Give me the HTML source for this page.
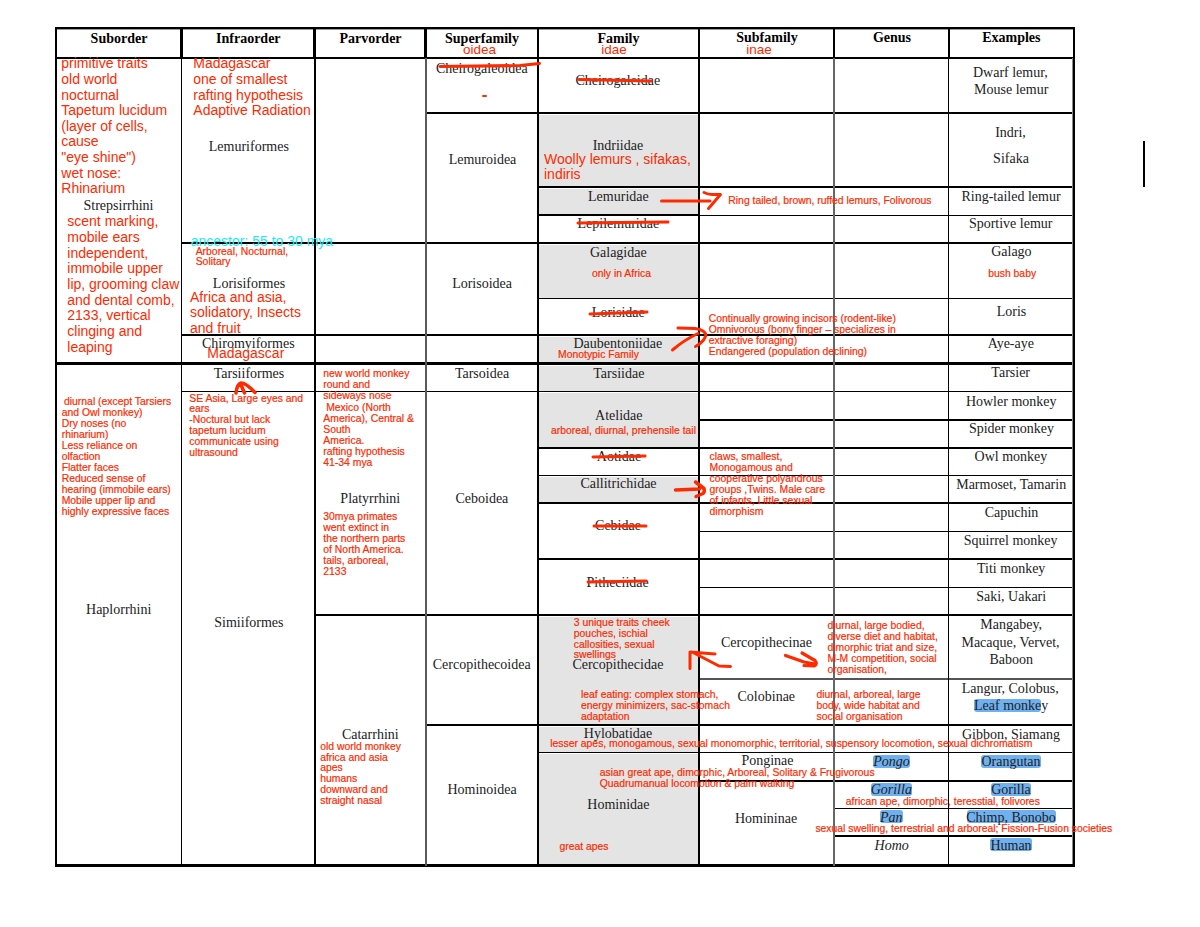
<!DOCTYPE html>
<html><head><meta charset="utf-8"><title>Primate Taxonomy</title>
<style>
html,body{margin:0;padding:0;background:#fff;}
body{width:1200px;height:927px;position:relative;overflow:hidden;}
.t{position:absolute;white-space:pre;}
.l{position:absolute;}
svg{position:absolute;left:0;top:0;}
</style></head><body>
<div class="l" style="left:539px;top:115px;width:159px;height:72px;background:#e4e4e4"></div>
<div class="l" style="left:539px;top:189px;width:159px;height:26px;background:#e4e4e4"></div>
<div class="l" style="left:539px;top:245px;width:159px;height:53px;background:#e4e4e4"></div>
<div class="l" style="left:539px;top:337px;width:159px;height:27px;background:#e4e4e4"></div>
<div class="l" style="left:539px;top:366px;width:159px;height:26px;background:#e4e4e4"></div>
<div class="l" style="left:539px;top:393px;width:159px;height:55px;background:#e4e4e4"></div>
<div class="l" style="left:539px;top:477px;width:159px;height:26px;background:#e4e4e4"></div>
<div class="l" style="left:539px;top:617px;width:159px;height:108px;background:#e4e4e4"></div>
<div class="l" style="left:539px;top:727px;width:159px;height:26px;background:#e4e4e4"></div>
<div class="l" style="left:539px;top:754px;width:159px;height:110px;background:#e4e4e4"></div>
<div class="l" style="left:974px;top:699px;width:67px;height:13px;background:#6eb0f0;border-radius:3px"></div>
<div class="l" style="left:873px;top:755px;width:37px;height:13px;background:#6eb0f0;border-radius:3px"></div>
<div class="l" style="left:981px;top:755px;width:60px;height:13px;background:#6eb0f0;border-radius:3px"></div>
<div class="l" style="left:871px;top:783px;width:41px;height:13px;background:#6eb0f0;border-radius:3px"></div>
<div class="l" style="left:991px;top:783px;width:40px;height:13px;background:#6eb0f0;border-radius:3px"></div>
<div class="l" style="left:880px;top:810px;width:23px;height:13px;background:#6eb0f0;border-radius:3px"></div>
<div class="l" style="left:967px;top:810px;width:89px;height:13px;background:#6eb0f0;border-radius:3px"></div>
<div class="l" style="left:990px;top:838px;width:42px;height:13px;background:#6eb0f0;border-radius:3px"></div>
<div class="l" style="left:55px;top:27px;width:1020px;height:2px;background:#000"></div>
<div class="l" style="left:55px;top:29px;width:1020px;height:1px;background:#999"></div>
<div class="l" style="left:55px;top:57px;width:1020px;height:2px;background:#000"></div>
<div class="l" style="left:425px;top:112px;width:649px;height:2px;background:#000"></div>
<div class="l" style="left:537px;top:186px;width:537px;height:2px;background:#000"></div>
<div class="l" style="left:537px;top:214px;width:161px;height:2px;background:#000"></div>
<div class="l" style="left:698px;top:215px;width:376px;height:1px;background:#000"></div>
<div class="l" style="left:181px;top:242px;width:893px;height:2px;background:#000"></div>
<div class="l" style="left:537px;top:298px;width:537px;height:1px;background:#000"></div>
<div class="l" style="left:181px;top:334px;width:893px;height:2px;background:#000"></div>
<div class="l" style="left:55px;top:362px;width:1019px;height:3px;background:#000"></div>
<div class="l" style="left:181px;top:391px;width:893px;height:1px;background:#000"></div>
<div class="l" style="left:698px;top:419px;width:376px;height:2px;background:#000"></div>
<div class="l" style="left:537px;top:447px;width:537px;height:2px;background:#000"></div>
<div class="l" style="left:537px;top:475px;width:537px;height:1px;background:#000"></div>
<div class="l" style="left:537px;top:502px;width:537px;height:2px;background:#000"></div>
<div class="l" style="left:698px;top:531px;width:376px;height:1px;background:#000"></div>
<div class="l" style="left:537px;top:558px;width:537px;height:2px;background:#000"></div>
<div class="l" style="left:698px;top:587px;width:376px;height:1px;background:#000"></div>
<div class="l" style="left:315px;top:614px;width:759px;height:2px;background:#000"></div>
<div class="l" style="left:698px;top:678px;width:376px;height:2px;background:#555"></div>
<div class="l" style="left:425px;top:724px;width:649px;height:2px;background:#000"></div>
<div class="l" style="left:537px;top:752px;width:537px;height:1px;background:#000"></div>
<div class="l" style="left:698px;top:780px;width:376px;height:2px;background:#000"></div>
<div class="l" style="left:833px;top:808px;width:241px;height:1px;background:#000"></div>
<div class="l" style="left:833px;top:835px;width:241px;height:2px;background:#000"></div>
<div class="l" style="left:55px;top:864px;width:1020px;height:3px;background:#000"></div>
<div class="l" style="left:55px;top:27px;width:2px;height:840px;background:#000"></div>
<div class="l" style="left:180px;top:27px;width:3px;height:31px;background:#000"></div>
<div class="l" style="left:181px;top:58px;width:1px;height:808px;background:#000"></div>
<div class="l" style="left:313px;top:27px;width:3px;height:31px;background:#000"></div>
<div class="l" style="left:314px;top:58px;width:2px;height:808px;background:#000"></div>
<div class="l" style="left:424px;top:27px;width:3px;height:31px;background:#000"></div>
<div class="l" style="left:425px;top:58px;width:2px;height:808px;background:#5a5a5a"></div>
<div class="l" style="left:537px;top:27px;width:2px;height:839px;background:#000"></div>
<div class="l" style="left:698px;top:27px;width:2px;height:839px;background:#000"></div>
<div class="l" style="left:833px;top:27px;width:2px;height:31px;background:#000"></div>
<div class="l" style="left:833px;top:58px;width:2px;height:808px;background:#666"></div>
<div class="l" style="left:948px;top:27px;width:2px;height:31px;background:#000"></div>
<div class="l" style="left:948px;top:58px;width:1px;height:808px;background:#000"></div>
<div class="l" style="left:1073px;top:27px;width:2px;height:840px;background:#000"></div>
<div class="l" style="left:1072px;top:58px;width:1px;height:806px;background:#888"></div>
<div class="l" style="left:1143px;top:141px;width:2px;height:46px;background:#000"></div>
<div class="t" style="left:-181.00px;width:600px;text-align:center;top:29.77px;font-family:'Liberation Serif', serif;font-size:14px;line-height:17px;color:#000;font-weight:bold;">Suborder</div>
<div class="t" style="left:-51.70px;width:600px;text-align:center;top:29.77px;font-family:'Liberation Serif', serif;font-size:14px;line-height:17px;color:#000;font-weight:bold;">Infraorder</div>
<div class="t" style="left:70.50px;width:600px;text-align:center;top:29.77px;font-family:'Liberation Serif', serif;font-size:14px;line-height:17px;color:#000;font-weight:bold;">Parvorder</div>
<div class="t" style="left:182.00px;width:600px;text-align:center;top:30.27px;font-family:'Liberation Serif', serif;font-size:14px;line-height:17px;color:#000;font-weight:bold;">Superfamily</div>
<div class="t" style="left:179.50px;width:600px;text-align:center;top:41.15px;font-family:'Liberation Sans', sans-serif;font-size:14px;line-height:17px;color:#ff2a00;font-size:13.5px;">oidea</div>
<div class="t" style="left:318.50px;width:600px;text-align:center;top:30.27px;font-family:'Liberation Serif', serif;font-size:14px;line-height:17px;color:#000;font-weight:bold;">Family</div>
<div class="t" style="left:314.00px;width:600px;text-align:center;top:41.15px;font-family:'Liberation Sans', sans-serif;font-size:14px;line-height:17px;color:#ff2a00;font-size:13.5px;">idae</div>
<div class="t" style="left:467.00px;width:600px;text-align:center;top:29.48px;font-family:'Liberation Serif', serif;font-size:14px;line-height:17px;color:#000;font-weight:bold;">Subfamily</div>
<div class="t" style="left:459.00px;width:600px;text-align:center;top:41.45px;font-family:'Liberation Sans', sans-serif;font-size:14px;line-height:17px;color:#ff2a00;font-size:13.5px;">inae</div>
<div class="t" style="left:592.00px;width:600px;text-align:center;top:29.48px;font-family:'Liberation Serif', serif;font-size:14px;line-height:17px;color:#000;font-weight:bold;">Genus</div>
<div class="t" style="left:711.30px;width:600px;text-align:center;top:29.48px;font-family:'Liberation Serif', serif;font-size:14px;line-height:17px;color:#000;font-weight:bold;">Examples</div>
<div class="t" style="left:61.30px;top:55.35px;font-family:'Liberation Sans', sans-serif;font-size:14px;line-height:17px;color:#ff2a00;">primitive traits</div>
<div class="t" style="left:61.30px;top:70.96px;font-family:'Liberation Sans', sans-serif;font-size:14px;line-height:17px;color:#ff2a00;">old world</div>
<div class="t" style="left:61.30px;top:86.57px;font-family:'Liberation Sans', sans-serif;font-size:14px;line-height:17px;color:#ff2a00;">nocturnal</div>
<div class="t" style="left:61.30px;top:102.18px;font-family:'Liberation Sans', sans-serif;font-size:14px;line-height:17px;color:#ff2a00;">Tapetum lucidum</div>
<div class="t" style="left:61.30px;top:117.79px;font-family:'Liberation Sans', sans-serif;font-size:14px;line-height:17px;color:#ff2a00;">(layer of cells,</div>
<div class="t" style="left:61.30px;top:133.40px;font-family:'Liberation Sans', sans-serif;font-size:14px;line-height:17px;color:#ff2a00;">cause</div>
<div class="t" style="left:61.30px;top:149.01px;font-family:'Liberation Sans', sans-serif;font-size:14px;line-height:17px;color:#ff2a00;">&quot;eye shine&quot;)</div>
<div class="t" style="left:61.30px;top:164.62px;font-family:'Liberation Sans', sans-serif;font-size:14px;line-height:17px;color:#ff2a00;">wet nose:</div>
<div class="t" style="left:61.30px;top:180.23px;font-family:'Liberation Sans', sans-serif;font-size:14px;line-height:17px;color:#ff2a00;">Rhinarium</div>
<div class="t" style="left:-181.50px;width:600px;text-align:center;top:197.47px;font-family:'Liberation Serif', serif;font-size:14px;line-height:17px;color:#222;">Strepsirrhini</div>
<div class="t" style="left:67.30px;top:213.35px;font-family:'Liberation Sans', sans-serif;font-size:14px;line-height:17px;color:#ff2a00;">scent marking,</div>
<div class="t" style="left:67.30px;top:229.01px;font-family:'Liberation Sans', sans-serif;font-size:14px;line-height:17px;color:#ff2a00;">mobile ears</div>
<div class="t" style="left:67.30px;top:244.67px;font-family:'Liberation Sans', sans-serif;font-size:14px;line-height:17px;color:#ff2a00;">independent,</div>
<div class="t" style="left:67.30px;top:260.33px;font-family:'Liberation Sans', sans-serif;font-size:14px;line-height:17px;color:#ff2a00;">immobile upper</div>
<div class="t" style="left:67.30px;top:275.99px;font-family:'Liberation Sans', sans-serif;font-size:14px;line-height:17px;color:#ff2a00;">lip, grooming claw</div>
<div class="t" style="left:67.30px;top:291.65px;font-family:'Liberation Sans', sans-serif;font-size:14px;line-height:17px;color:#ff2a00;">and dental comb,</div>
<div class="t" style="left:67.30px;top:307.31px;font-family:'Liberation Sans', sans-serif;font-size:14px;line-height:17px;color:#ff2a00;">2133, vertical</div>
<div class="t" style="left:67.30px;top:322.97px;font-family:'Liberation Sans', sans-serif;font-size:14px;line-height:17px;color:#ff2a00;">clinging and</div>
<div class="t" style="left:67.30px;top:338.63px;font-family:'Liberation Sans', sans-serif;font-size:14px;line-height:17px;color:#ff2a00;">leaping</div>
<div class="t" style="left:64.00px;top:395.90px;font-family:'Liberation Sans', sans-serif;font-size:10.4px;line-height:12px;color:#ff2a00;-webkit-text-stroke:0.2px #ff2a00;">diurnal (except Tarsiers</div>
<div class="t" style="left:61.70px;top:406.90px;font-family:'Liberation Sans', sans-serif;font-size:10.4px;line-height:12px;color:#ff2a00;-webkit-text-stroke:0.2px #ff2a00;">and Owl monkey)</div>
<div class="t" style="left:61.70px;top:417.90px;font-family:'Liberation Sans', sans-serif;font-size:10.4px;line-height:12px;color:#ff2a00;-webkit-text-stroke:0.2px #ff2a00;">Dry noses (no</div>
<div class="t" style="left:61.70px;top:428.90px;font-family:'Liberation Sans', sans-serif;font-size:10.4px;line-height:12px;color:#ff2a00;-webkit-text-stroke:0.2px #ff2a00;">rhinarium)</div>
<div class="t" style="left:61.70px;top:439.90px;font-family:'Liberation Sans', sans-serif;font-size:10.4px;line-height:12px;color:#ff2a00;-webkit-text-stroke:0.2px #ff2a00;">Less reliance on</div>
<div class="t" style="left:61.70px;top:450.90px;font-family:'Liberation Sans', sans-serif;font-size:10.4px;line-height:12px;color:#ff2a00;-webkit-text-stroke:0.2px #ff2a00;">olfaction</div>
<div class="t" style="left:61.70px;top:461.90px;font-family:'Liberation Sans', sans-serif;font-size:10.4px;line-height:12px;color:#ff2a00;-webkit-text-stroke:0.2px #ff2a00;">Flatter faces</div>
<div class="t" style="left:61.70px;top:472.90px;font-family:'Liberation Sans', sans-serif;font-size:10.4px;line-height:12px;color:#ff2a00;-webkit-text-stroke:0.2px #ff2a00;">Reduced sense of</div>
<div class="t" style="left:61.70px;top:483.90px;font-family:'Liberation Sans', sans-serif;font-size:10.4px;line-height:12px;color:#ff2a00;-webkit-text-stroke:0.2px #ff2a00;">hearing (immobile ears)</div>
<div class="t" style="left:61.70px;top:494.90px;font-family:'Liberation Sans', sans-serif;font-size:10.4px;line-height:12px;color:#ff2a00;-webkit-text-stroke:0.2px #ff2a00;">Mobile upper lip and</div>
<div class="t" style="left:61.70px;top:505.90px;font-family:'Liberation Sans', sans-serif;font-size:10.4px;line-height:12px;color:#ff2a00;-webkit-text-stroke:0.2px #ff2a00;">highly expressive faces</div>
<div class="t" style="left:-181.30px;width:600px;text-align:center;top:601.38px;font-family:'Liberation Serif', serif;font-size:14px;line-height:17px;color:#222;">Haplorrhini</div>
<div class="t" style="left:193.30px;top:55.45px;font-family:'Liberation Sans', sans-serif;font-size:14px;line-height:17px;color:#ff2a00;">Madagascar</div>
<div class="t" style="left:193.30px;top:71.10px;font-family:'Liberation Sans', sans-serif;font-size:14px;line-height:17px;color:#ff2a00;">one of smallest</div>
<div class="t" style="left:193.30px;top:86.75px;font-family:'Liberation Sans', sans-serif;font-size:14px;line-height:17px;color:#ff2a00;">rafting hypothesis</div>
<div class="t" style="left:193.30px;top:102.40px;font-family:'Liberation Sans', sans-serif;font-size:14px;line-height:17px;color:#ff2a00;">Adaptive Radiation</div>
<div class="t" style="left:-51.20px;width:600px;text-align:center;top:137.78px;font-family:'Liberation Serif', serif;font-size:14px;line-height:17px;color:#222;">Lemuriformes</div>
<div class="t" style="left:195.70px;top:246.40px;font-family:'Liberation Sans', sans-serif;font-size:10.4px;line-height:12px;color:#ff2a00;-webkit-text-stroke:0.2px #ff2a00;">Arboreal, Nocturnal,</div>
<div class="t" style="left:195.70px;top:256.40px;font-family:'Liberation Sans', sans-serif;font-size:10.4px;line-height:12px;color:#ff2a00;-webkit-text-stroke:0.2px #ff2a00;">Solitary</div>
<div class="t" style="left:-51.00px;width:600px;text-align:center;top:274.67px;font-family:'Liberation Serif', serif;font-size:14px;line-height:17px;color:#222;">Lorisiformes</div>
<div class="t" style="left:190.00px;top:288.65px;font-family:'Liberation Sans', sans-serif;font-size:14px;line-height:17px;color:#ff2a00;">Africa and asia,</div>
<div class="t" style="left:190.00px;top:304.15px;font-family:'Liberation Sans', sans-serif;font-size:14px;line-height:17px;color:#ff2a00;">solidatory, Insects</div>
<div class="t" style="left:190.00px;top:319.65px;font-family:'Liberation Sans', sans-serif;font-size:14px;line-height:17px;color:#ff2a00;">and fruit</div>
<div class="t" style="left:-51.70px;width:600px;text-align:center;top:335.07px;font-family:'Liberation Serif', serif;font-size:14px;line-height:17px;color:#222;">Chiromyiformes</div>
<div class="t" style="left:-54.20px;width:600px;text-align:center;top:345.15px;font-family:'Liberation Sans', sans-serif;font-size:14px;line-height:17px;color:#ff2a00;">Madagascar</div>
<div class="t" style="left:-51.00px;width:600px;text-align:center;top:365.07px;font-family:'Liberation Serif', serif;font-size:14px;line-height:17px;color:#222;">Tarsiiformes</div>
<div class="t" style="left:189.30px;top:392.60px;font-family:'Liberation Sans', sans-serif;font-size:10.4px;line-height:12px;color:#ff2a00;-webkit-text-stroke:0.2px #ff2a00;">SE Asia, Large eyes and</div>
<div class="t" style="left:189.30px;top:403.45px;font-family:'Liberation Sans', sans-serif;font-size:10.4px;line-height:12px;color:#ff2a00;-webkit-text-stroke:0.2px #ff2a00;">ears</div>
<div class="t" style="left:189.30px;top:414.30px;font-family:'Liberation Sans', sans-serif;font-size:10.4px;line-height:12px;color:#ff2a00;-webkit-text-stroke:0.2px #ff2a00;">-Noctural but lack</div>
<div class="t" style="left:189.30px;top:425.15px;font-family:'Liberation Sans', sans-serif;font-size:10.4px;line-height:12px;color:#ff2a00;-webkit-text-stroke:0.2px #ff2a00;">tapetum lucidum</div>
<div class="t" style="left:189.30px;top:436.00px;font-family:'Liberation Sans', sans-serif;font-size:10.4px;line-height:12px;color:#ff2a00;-webkit-text-stroke:0.2px #ff2a00;">communicate using</div>
<div class="t" style="left:189.30px;top:446.85px;font-family:'Liberation Sans', sans-serif;font-size:10.4px;line-height:12px;color:#ff2a00;-webkit-text-stroke:0.2px #ff2a00;">ultrasound</div>
<div class="t" style="left:-51.10px;width:600px;text-align:center;top:613.98px;font-family:'Liberation Serif', serif;font-size:14px;line-height:17px;color:#222;">Simiiformes</div>
<div class="t" style="left:190.70px;top:232.95px;font-family:'Liberation Sans', sans-serif;font-size:14px;line-height:17px;color:#1cecf2;">ancestor: 55 to 30 mya</div>
<div class="t" style="left:323.30px;top:368.20px;font-family:'Liberation Sans', sans-serif;font-size:10.4px;line-height:12px;color:#ff2a00;-webkit-text-stroke:0.2px #ff2a00;">new world monkey</div>
<div class="t" style="left:323.30px;top:379.30px;font-family:'Liberation Sans', sans-serif;font-size:10.4px;line-height:12px;color:#ff2a00;-webkit-text-stroke:0.2px #ff2a00;">round and</div>
<div class="t" style="left:323.30px;top:390.40px;font-family:'Liberation Sans', sans-serif;font-size:10.4px;line-height:12px;color:#ff2a00;-webkit-text-stroke:0.2px #ff2a00;">sideways nose</div>
<div class="t" style="left:323.30px;top:401.50px;font-family:'Liberation Sans', sans-serif;font-size:10.4px;line-height:12px;color:#ff2a00;-webkit-text-stroke:0.2px #ff2a00;"> Mexico (North</div>
<div class="t" style="left:323.30px;top:412.60px;font-family:'Liberation Sans', sans-serif;font-size:10.4px;line-height:12px;color:#ff2a00;-webkit-text-stroke:0.2px #ff2a00;">America), Central &amp;</div>
<div class="t" style="left:323.30px;top:423.70px;font-family:'Liberation Sans', sans-serif;font-size:10.4px;line-height:12px;color:#ff2a00;-webkit-text-stroke:0.2px #ff2a00;">South</div>
<div class="t" style="left:323.30px;top:434.80px;font-family:'Liberation Sans', sans-serif;font-size:10.4px;line-height:12px;color:#ff2a00;-webkit-text-stroke:0.2px #ff2a00;">America.</div>
<div class="t" style="left:323.30px;top:445.90px;font-family:'Liberation Sans', sans-serif;font-size:10.4px;line-height:12px;color:#ff2a00;-webkit-text-stroke:0.2px #ff2a00;">rafting hypothesis</div>
<div class="t" style="left:323.30px;top:457.00px;font-family:'Liberation Sans', sans-serif;font-size:10.4px;line-height:12px;color:#ff2a00;-webkit-text-stroke:0.2px #ff2a00;">41-34 mya</div>
<div class="t" style="left:70.30px;width:600px;text-align:center;top:490.17px;font-family:'Liberation Serif', serif;font-size:14px;line-height:17px;color:#222;">Platyrrhini</div>
<div class="t" style="left:323.30px;top:511.40px;font-family:'Liberation Sans', sans-serif;font-size:10.4px;line-height:12px;color:#ff2a00;-webkit-text-stroke:0.2px #ff2a00;">30mya primates</div>
<div class="t" style="left:323.30px;top:522.40px;font-family:'Liberation Sans', sans-serif;font-size:10.4px;line-height:12px;color:#ff2a00;-webkit-text-stroke:0.2px #ff2a00;">went extinct in</div>
<div class="t" style="left:323.30px;top:533.40px;font-family:'Liberation Sans', sans-serif;font-size:10.4px;line-height:12px;color:#ff2a00;-webkit-text-stroke:0.2px #ff2a00;">the northern parts</div>
<div class="t" style="left:323.30px;top:544.40px;font-family:'Liberation Sans', sans-serif;font-size:10.4px;line-height:12px;color:#ff2a00;-webkit-text-stroke:0.2px #ff2a00;">of North America.</div>
<div class="t" style="left:323.30px;top:555.40px;font-family:'Liberation Sans', sans-serif;font-size:10.4px;line-height:12px;color:#ff2a00;-webkit-text-stroke:0.2px #ff2a00;">tails, arboreal,</div>
<div class="t" style="left:323.30px;top:566.40px;font-family:'Liberation Sans', sans-serif;font-size:10.4px;line-height:12px;color:#ff2a00;-webkit-text-stroke:0.2px #ff2a00;">2133</div>
<div class="t" style="left:70.30px;width:600px;text-align:center;top:726.07px;font-family:'Liberation Serif', serif;font-size:14px;line-height:17px;color:#222;">Catarrhini</div>
<div class="t" style="left:320.20px;top:740.70px;font-family:'Liberation Sans', sans-serif;font-size:10.4px;line-height:12px;color:#ff2a00;-webkit-text-stroke:0.2px #ff2a00;">old world monkey</div>
<div class="t" style="left:320.20px;top:751.50px;font-family:'Liberation Sans', sans-serif;font-size:10.4px;line-height:12px;color:#ff2a00;-webkit-text-stroke:0.2px #ff2a00;">africa and asia</div>
<div class="t" style="left:320.20px;top:762.30px;font-family:'Liberation Sans', sans-serif;font-size:10.4px;line-height:12px;color:#ff2a00;-webkit-text-stroke:0.2px #ff2a00;">apes</div>
<div class="t" style="left:320.20px;top:773.10px;font-family:'Liberation Sans', sans-serif;font-size:10.4px;line-height:12px;color:#ff2a00;-webkit-text-stroke:0.2px #ff2a00;">humans</div>
<div class="t" style="left:320.20px;top:783.90px;font-family:'Liberation Sans', sans-serif;font-size:10.4px;line-height:12px;color:#ff2a00;-webkit-text-stroke:0.2px #ff2a00;">downward and</div>
<div class="t" style="left:320.20px;top:794.70px;font-family:'Liberation Sans', sans-serif;font-size:10.4px;line-height:12px;color:#ff2a00;-webkit-text-stroke:0.2px #ff2a00;">straight nasal</div>
<div class="t" style="left:181.90px;width:600px;text-align:center;top:59.57px;font-family:'Liberation Serif', serif;font-size:14px;line-height:17px;color:#222;">Cheirogaleoidea</div>
<div class="t" style="left:182.50px;width:600px;text-align:center;top:151.47px;font-family:'Liberation Serif', serif;font-size:14px;line-height:17px;color:#222;">Lemuroidea</div>
<div class="t" style="left:182.10px;width:600px;text-align:center;top:275.17px;font-family:'Liberation Serif', serif;font-size:14px;line-height:17px;color:#222;">Lorisoidea</div>
<div class="t" style="left:182.00px;width:600px;text-align:center;top:364.57px;font-family:'Liberation Serif', serif;font-size:14px;line-height:17px;color:#222;">Tarsoidea</div>
<div class="t" style="left:181.90px;width:600px;text-align:center;top:490.17px;font-family:'Liberation Serif', serif;font-size:14px;line-height:17px;color:#222;">Ceboidea</div>
<div class="t" style="left:181.70px;width:600px;text-align:center;top:656.07px;font-family:'Liberation Serif', serif;font-size:14px;line-height:17px;color:#222;">Cercopithecoidea</div>
<div class="t" style="left:182.00px;width:600px;text-align:center;top:780.77px;font-family:'Liberation Serif', serif;font-size:14px;line-height:17px;color:#222;">Hominoidea</div>
<div class="t" style="left:317.80px;width:600px;text-align:center;top:71.97px;font-family:'Liberation Serif', serif;font-size:14px;line-height:17px;color:#222;">Cheirogaleidae</div>
<div class="t" style="left:317.90px;width:600px;text-align:center;top:136.97px;font-family:'Liberation Serif', serif;font-size:14px;line-height:17px;color:#222;">Indriidae</div>
<div class="t" style="left:544.00px;top:151.45px;font-family:'Liberation Sans', sans-serif;font-size:14px;line-height:17px;color:#ff2a00;">Woolly lemurs , sifakas,</div>
<div class="t" style="left:544.00px;top:166.15px;font-family:'Liberation Sans', sans-serif;font-size:14px;line-height:17px;color:#ff2a00;">indiris</div>
<div class="t" style="left:318.40px;width:600px;text-align:center;top:188.28px;font-family:'Liberation Serif', serif;font-size:14px;line-height:17px;color:#222;">Lemuridae</div>
<div class="t" style="left:318.40px;width:600px;text-align:center;top:215.18px;font-family:'Liberation Serif', serif;font-size:14px;line-height:17px;color:#222;">Lepilemuridae</div>
<div class="t" style="left:318.30px;width:600px;text-align:center;top:243.67px;font-family:'Liberation Serif', serif;font-size:14px;line-height:17px;color:#222;">Galagidae</div>
<div class="t" style="left:592.00px;top:268.30px;font-family:'Liberation Sans', sans-serif;font-size:10.4px;line-height:12px;color:#ff2a00;-webkit-text-stroke:0.2px #ff2a00;">only in Africa</div>
<div class="t" style="left:318.30px;width:600px;text-align:center;top:303.57px;font-family:'Liberation Serif', serif;font-size:14px;line-height:17px;color:#222;">Lorisidae</div>
<div class="t" style="left:317.80px;width:600px;text-align:center;top:335.07px;font-family:'Liberation Serif', serif;font-size:14px;line-height:17px;color:#222;">Daubentoniidae</div>
<div class="t" style="left:558.00px;top:348.80px;font-family:'Liberation Sans', sans-serif;font-size:10.4px;line-height:12px;color:#ff2a00;-webkit-text-stroke:0.2px #ff2a00;">Monotypic Family</div>
<div class="t" style="left:318.80px;width:600px;text-align:center;top:364.57px;font-family:'Liberation Serif', serif;font-size:14px;line-height:17px;color:#222;">Tarsiidae</div>
<div class="t" style="left:318.80px;width:600px;text-align:center;top:407.27px;font-family:'Liberation Serif', serif;font-size:14px;line-height:17px;color:#222;">Atelidae</div>
<div class="t" style="left:551.00px;top:424.90px;font-family:'Liberation Sans', sans-serif;font-size:10.4px;line-height:12px;color:#ff2a00;-webkit-text-stroke:0.2px #ff2a00;">arboreal, diurnal, prehensile tail</div>
<div class="t" style="left:319.00px;width:600px;text-align:center;top:448.17px;font-family:'Liberation Serif', serif;font-size:14px;line-height:17px;color:#222;">Aotidae</div>
<div class="t" style="left:318.50px;width:600px;text-align:center;top:475.38px;font-family:'Liberation Serif', serif;font-size:14px;line-height:17px;color:#222;">Callitrichidae</div>
<div class="t" style="left:318.00px;width:600px;text-align:center;top:517.48px;font-family:'Liberation Serif', serif;font-size:14px;line-height:17px;color:#222;">Cebidae</div>
<div class="t" style="left:317.70px;width:600px;text-align:center;top:574.38px;font-family:'Liberation Serif', serif;font-size:14px;line-height:17px;color:#222;">Pitheciidae</div>
<div class="t" style="left:573.80px;top:617.00px;font-family:'Liberation Sans', sans-serif;font-size:10.4px;line-height:12px;color:#ff2a00;-webkit-text-stroke:0.2px #ff2a00;">3 unique traits cheek</div>
<div class="t" style="left:573.80px;top:627.80px;font-family:'Liberation Sans', sans-serif;font-size:10.4px;line-height:12px;color:#ff2a00;-webkit-text-stroke:0.2px #ff2a00;">pouches, ischial</div>
<div class="t" style="left:573.80px;top:638.60px;font-family:'Liberation Sans', sans-serif;font-size:10.4px;line-height:12px;color:#ff2a00;-webkit-text-stroke:0.2px #ff2a00;">callosities, sexual</div>
<div class="t" style="left:573.80px;top:649.40px;font-family:'Liberation Sans', sans-serif;font-size:10.4px;line-height:12px;color:#ff2a00;-webkit-text-stroke:0.2px #ff2a00;">swellings</div>
<div class="t" style="left:317.90px;width:600px;text-align:center;top:656.07px;font-family:'Liberation Serif', serif;font-size:14px;line-height:17px;color:#222;">Cercopithecidae</div>
<div class="t" style="left:581.00px;top:688.80px;font-family:'Liberation Sans', sans-serif;font-size:10.4px;line-height:12px;color:#ff2a00;-webkit-text-stroke:0.2px #ff2a00;">leaf eating: complex stomach,</div>
<div class="t" style="left:581.00px;top:699.90px;font-family:'Liberation Sans', sans-serif;font-size:10.4px;line-height:12px;color:#ff2a00;-webkit-text-stroke:0.2px #ff2a00;">energy minimizers, sac-stomach</div>
<div class="t" style="left:581.00px;top:711.00px;font-family:'Liberation Sans', sans-serif;font-size:10.4px;line-height:12px;color:#ff2a00;-webkit-text-stroke:0.2px #ff2a00;">adaptation</div>
<div class="t" style="left:318.00px;width:600px;text-align:center;top:725.48px;font-family:'Liberation Serif', serif;font-size:14px;line-height:17px;color:#222;">Hylobatidae</div>
<div class="t" style="left:550.20px;top:738.30px;font-family:'Liberation Sans', sans-serif;font-size:10.4px;line-height:12px;color:#ff2a00;-webkit-text-stroke:0.2px #ff2a00;">lesser apes, monogamous, sexual monomorphic, territorial, suspensory locomotion, sexual dichromatism</div>
<div class="t" style="left:599.70px;top:767.40px;font-family:'Liberation Sans', sans-serif;font-size:10.4px;line-height:12px;color:#ff2a00;-webkit-text-stroke:0.2px #ff2a00;">asian great ape, dimorphic, Arboreal, Solitary &amp; Frugivorous</div>
<div class="t" style="left:599.70px;top:777.60px;font-family:'Liberation Sans', sans-serif;font-size:10.4px;line-height:12px;color:#ff2a00;-webkit-text-stroke:0.2px #ff2a00;">Quadrumanual locomotion &amp; palm walking</div>
<div class="t" style="left:318.40px;width:600px;text-align:center;top:795.77px;font-family:'Liberation Serif', serif;font-size:14px;line-height:17px;color:#222;">Hominidae</div>
<div class="t" style="left:559.40px;top:841.10px;font-family:'Liberation Sans', sans-serif;font-size:10.4px;line-height:12px;color:#ff2a00;-webkit-text-stroke:0.2px #ff2a00;">great apes</div>
<div class="t" style="left:728.30px;top:195.20px;font-family:'Liberation Sans', sans-serif;font-size:10.4px;line-height:12px;color:#ff2a00;-webkit-text-stroke:0.2px #ff2a00;">Ring tailed, brown, ruffed lemurs, Folivorous</div>
<div class="t" style="left:708.75px;top:313.15px;font-family:'Liberation Sans', sans-serif;font-size:10.4px;line-height:12px;color:#ff2a00;-webkit-text-stroke:0.2px #ff2a00;">Continually growing incisors (rodent-like)</div>
<div class="t" style="left:708.75px;top:324.15px;font-family:'Liberation Sans', sans-serif;font-size:10.4px;line-height:12px;color:#ff2a00;-webkit-text-stroke:0.2px #ff2a00;">Omnivorous (bony finger – specializes in</div>
<div class="t" style="left:708.75px;top:335.15px;font-family:'Liberation Sans', sans-serif;font-size:10.4px;line-height:12px;color:#ff2a00;-webkit-text-stroke:0.2px #ff2a00;">extractive foraging)</div>
<div class="t" style="left:708.75px;top:346.15px;font-family:'Liberation Sans', sans-serif;font-size:10.4px;line-height:12px;color:#ff2a00;-webkit-text-stroke:0.2px #ff2a00;">Endangered (population declining)</div>
<div class="t" style="left:709.60px;top:451.00px;font-family:'Liberation Sans', sans-serif;font-size:10.4px;line-height:12px;color:#ff2a00;-webkit-text-stroke:0.2px #ff2a00;">claws, smallest,</div>
<div class="t" style="left:709.60px;top:461.94px;font-family:'Liberation Sans', sans-serif;font-size:10.4px;line-height:12px;color:#ff2a00;-webkit-text-stroke:0.2px #ff2a00;">Monogamous and</div>
<div class="t" style="left:709.60px;top:472.88px;font-family:'Liberation Sans', sans-serif;font-size:10.4px;line-height:12px;color:#ff2a00;-webkit-text-stroke:0.2px #ff2a00;">cooperative polyandrous</div>
<div class="t" style="left:709.60px;top:483.82px;font-family:'Liberation Sans', sans-serif;font-size:10.4px;line-height:12px;color:#ff2a00;-webkit-text-stroke:0.2px #ff2a00;">groups ,Twins. Male care</div>
<div class="t" style="left:709.60px;top:494.76px;font-family:'Liberation Sans', sans-serif;font-size:10.4px;line-height:12px;color:#ff2a00;-webkit-text-stroke:0.2px #ff2a00;">of infants, Little sexual</div>
<div class="t" style="left:709.60px;top:505.70px;font-family:'Liberation Sans', sans-serif;font-size:10.4px;line-height:12px;color:#ff2a00;-webkit-text-stroke:0.2px #ff2a00;">dimorphism</div>
<div class="t" style="left:466.40px;width:600px;text-align:center;top:634.27px;font-family:'Liberation Serif', serif;font-size:14px;line-height:17px;color:#222;">Cercopithecinae</div>
<div class="t" style="left:466.30px;width:600px;text-align:center;top:688.48px;font-family:'Liberation Serif', serif;font-size:14px;line-height:17px;color:#222;">Colobinae</div>
<div class="t" style="left:467.50px;width:600px;text-align:center;top:751.77px;font-family:'Liberation Serif', serif;font-size:14px;line-height:17px;color:#222;">Ponginae</div>
<div class="t" style="left:466.00px;width:600px;text-align:center;top:809.77px;font-family:'Liberation Serif', serif;font-size:14px;line-height:17px;color:#222;">Homininae</div>
<div class="t" style="left:827.50px;top:620.40px;font-family:'Liberation Sans', sans-serif;font-size:10.4px;line-height:12px;color:#ff2a00;-webkit-text-stroke:0.2px #ff2a00;">diurnal, large bodied,</div>
<div class="t" style="left:827.50px;top:631.30px;font-family:'Liberation Sans', sans-serif;font-size:10.4px;line-height:12px;color:#ff2a00;-webkit-text-stroke:0.2px #ff2a00;">diverse diet and habitat,</div>
<div class="t" style="left:827.50px;top:642.20px;font-family:'Liberation Sans', sans-serif;font-size:10.4px;line-height:12px;color:#ff2a00;-webkit-text-stroke:0.2px #ff2a00;">dimorphic triat and size,</div>
<div class="t" style="left:827.50px;top:653.10px;font-family:'Liberation Sans', sans-serif;font-size:10.4px;line-height:12px;color:#ff2a00;-webkit-text-stroke:0.2px #ff2a00;">M-M competition, social</div>
<div class="t" style="left:827.50px;top:664.00px;font-family:'Liberation Sans', sans-serif;font-size:10.4px;line-height:12px;color:#ff2a00;-webkit-text-stroke:0.2px #ff2a00;">organisation,</div>
<div class="t" style="left:816.50px;top:689.30px;font-family:'Liberation Sans', sans-serif;font-size:10.4px;line-height:12px;color:#ff2a00;-webkit-text-stroke:0.2px #ff2a00;">diurnal, arboreal, large</div>
<div class="t" style="left:816.50px;top:700.00px;font-family:'Liberation Sans', sans-serif;font-size:10.4px;line-height:12px;color:#ff2a00;-webkit-text-stroke:0.2px #ff2a00;">body, wide habitat and</div>
<div class="t" style="left:816.50px;top:710.70px;font-family:'Liberation Sans', sans-serif;font-size:10.4px;line-height:12px;color:#ff2a00;-webkit-text-stroke:0.2px #ff2a00;">social organisation</div>
<div class="t" style="left:591.50px;width:600px;text-align:center;top:753.27px;font-family:'Liberation Serif', serif;font-size:14px;line-height:17px;color:#222;font-style:italic;">Pongo</div>
<div class="t" style="left:591.30px;width:600px;text-align:center;top:780.77px;font-family:'Liberation Serif', serif;font-size:14px;line-height:17px;color:#222;font-style:italic;">Gorilla</div>
<div class="t" style="left:845.80px;top:796.20px;font-family:'Liberation Sans', sans-serif;font-size:10.4px;line-height:12px;color:#ff2a00;-webkit-text-stroke:0.2px #ff2a00;">african ape, dimorphic, teresstial, folivores</div>
<div class="t" style="left:591.30px;width:600px;text-align:center;top:808.77px;font-family:'Liberation Serif', serif;font-size:14px;line-height:17px;color:#222;font-style:italic;">Pan</div>
<div class="t" style="left:815.40px;top:822.50px;font-family:'Liberation Sans', sans-serif;font-size:10.4px;line-height:12px;color:#ff2a00;-webkit-text-stroke:0.2px #ff2a00;">sexual swelling, terrestrial and arboreal; Fission-Fusion societies</div>
<div class="t" style="left:591.70px;width:600px;text-align:center;top:836.88px;font-family:'Liberation Serif', serif;font-size:14px;line-height:17px;color:#222;font-style:italic;">Homo</div>
<div class="t" style="left:710.40px;width:600px;text-align:center;top:64.07px;font-family:'Liberation Serif', serif;font-size:14px;line-height:17px;color:#222;">Dwarf lemur,</div>
<div class="t" style="left:711.20px;width:600px;text-align:center;top:80.88px;font-family:'Liberation Serif', serif;font-size:14px;line-height:17px;color:#222;">Mouse lemur</div>
<div class="t" style="left:710.50px;width:600px;text-align:center;top:123.68px;font-family:'Liberation Serif', serif;font-size:14px;line-height:17px;color:#222;">Indri,</div>
<div class="t" style="left:711.00px;width:600px;text-align:center;top:150.38px;font-family:'Liberation Serif', serif;font-size:14px;line-height:17px;color:#222;">Sifaka</div>
<div class="t" style="left:711.00px;width:600px;text-align:center;top:187.78px;font-family:'Liberation Serif', serif;font-size:14px;line-height:17px;color:#222;">Ring-tailed lemur</div>
<div class="t" style="left:710.70px;width:600px;text-align:center;top:214.68px;font-family:'Liberation Serif', serif;font-size:14px;line-height:17px;color:#222;">Sportive lemur</div>
<div class="t" style="left:711.40px;width:600px;text-align:center;top:243.28px;font-family:'Liberation Serif', serif;font-size:14px;line-height:17px;color:#222;">Galago</div>
<div class="t" style="left:711.50px;width:600px;text-align:center;top:303.47px;font-family:'Liberation Serif', serif;font-size:14px;line-height:17px;color:#222;">Loris</div>
<div class="t" style="left:710.90px;width:600px;text-align:center;top:335.38px;font-family:'Liberation Serif', serif;font-size:14px;line-height:17px;color:#222;">Aye-aye</div>
<div class="t" style="left:710.70px;width:600px;text-align:center;top:364.47px;font-family:'Liberation Serif', serif;font-size:14px;line-height:17px;color:#222;">Tarsier</div>
<div class="t" style="left:711.20px;width:600px;text-align:center;top:392.97px;font-family:'Liberation Serif', serif;font-size:14px;line-height:17px;color:#222;">Howler monkey</div>
<div class="t" style="left:711.50px;width:600px;text-align:center;top:420.47px;font-family:'Liberation Serif', serif;font-size:14px;line-height:17px;color:#222;">Spider monkey</div>
<div class="t" style="left:710.90px;width:600px;text-align:center;top:448.47px;font-family:'Liberation Serif', serif;font-size:14px;line-height:17px;color:#222;">Owl monkey</div>
<div class="t" style="left:711.20px;width:600px;text-align:center;top:475.88px;font-family:'Liberation Serif', serif;font-size:14px;line-height:17px;color:#222;">Marmoset, Tamarin</div>
<div class="t" style="left:711.50px;width:600px;text-align:center;top:503.88px;font-family:'Liberation Serif', serif;font-size:14px;line-height:17px;color:#222;">Capuchin</div>
<div class="t" style="left:710.70px;width:600px;text-align:center;top:531.98px;font-family:'Liberation Serif', serif;font-size:14px;line-height:17px;color:#222;">Squirrel monkey</div>
<div class="t" style="left:711.20px;width:600px;text-align:center;top:559.57px;font-family:'Liberation Serif', serif;font-size:14px;line-height:17px;color:#222;">Titi monkey</div>
<div class="t" style="left:711.20px;width:600px;text-align:center;top:587.67px;font-family:'Liberation Serif', serif;font-size:14px;line-height:17px;color:#222;">Saki, Uakari</div>
<div class="t" style="left:711.20px;width:600px;text-align:center;top:616.17px;font-family:'Liberation Serif', serif;font-size:14px;line-height:17px;color:#222;">Mangabey,</div>
<div class="t" style="left:710.50px;width:600px;text-align:center;top:634.27px;font-family:'Liberation Serif', serif;font-size:14px;line-height:17px;color:#222;">Macaque, Vervet,</div>
<div class="t" style="left:711.20px;width:600px;text-align:center;top:651.17px;font-family:'Liberation Serif', serif;font-size:14px;line-height:17px;color:#222;">Baboon</div>
<div class="t" style="left:710.20px;width:600px;text-align:center;top:679.57px;font-family:'Liberation Serif', serif;font-size:14px;line-height:17px;color:#222;">Langur, Colobus,</div>
<div class="t" style="left:711.20px;width:600px;text-align:center;top:697.07px;font-family:'Liberation Serif', serif;font-size:14px;line-height:17px;color:#222;">Leaf monkey</div>
<div class="t" style="left:710.90px;width:600px;text-align:center;top:726.07px;font-family:'Liberation Serif', serif;font-size:14px;line-height:17px;color:#222;">Gibbon, Siamang</div>
<div class="t" style="left:711.00px;width:600px;text-align:center;top:753.27px;font-family:'Liberation Serif', serif;font-size:14px;line-height:17px;color:#222;">Orangutan</div>
<div class="t" style="left:711.00px;width:600px;text-align:center;top:780.77px;font-family:'Liberation Serif', serif;font-size:14px;line-height:17px;color:#222;">Gorilla</div>
<div class="t" style="left:711.00px;width:600px;text-align:center;top:808.77px;font-family:'Liberation Serif', serif;font-size:14px;line-height:17px;color:#222;">Chimp, Bonobo</div>
<div class="t" style="left:711.00px;width:600px;text-align:center;top:836.77px;font-family:'Liberation Serif', serif;font-size:14px;line-height:17px;color:#222;">Human</div>
<div class="t" style="left:712.15px;width:600px;text-align:center;top:267.80px;font-family:'Liberation Sans', sans-serif;font-size:10.4px;line-height:12px;color:#ff2a00;-webkit-text-stroke:0.2px #ff2a00;">bush baby</div>
<svg width="1200" height="927" viewBox="0 0 1200 927"><path d="M440 66.5 L520 65.5 L539.5 63.5" stroke="#ff2a00" stroke-width="3" fill="none" stroke-linecap="round" stroke-linejoin="round"/><path d="M483 96 L486 96" stroke="#ff2a00" stroke-width="2" fill="none" stroke-linecap="round" stroke-linejoin="round"/><path d="M579 79.5 L651 81" stroke="#ff2a00" stroke-width="3" fill="none" stroke-linecap="round" stroke-linejoin="round"/><path d="M578 223 L668 222" stroke="#ff2a00" stroke-width="3" fill="none" stroke-linecap="round" stroke-linejoin="round"/><path d="M590 314 L647 312" stroke="#ff2a00" stroke-width="3" fill="none" stroke-linecap="round" stroke-linejoin="round"/><path d="M593 457 L645 456" stroke="#ff2a00" stroke-width="3" fill="none" stroke-linecap="round" stroke-linejoin="round"/><path d="M594 526 L646 526" stroke="#ff2a00" stroke-width="3" fill="none" stroke-linecap="round" stroke-linejoin="round"/><path d="M588 582 L646 581" stroke="#ff2a00" stroke-width="3" fill="none" stroke-linecap="round" stroke-linejoin="round"/><path d="M661.5 201 L710 201 M704 192.5 Q708 194.5 712 194.5 L720.5 194.5 L708.5 208.5" stroke="#ff2a00" stroke-width="3" fill="none" stroke-linecap="round" stroke-linejoin="round"/><path d="M672.5 350 Q684 340 698 333.5 M678 328 L695 328.5 Q705 330 706 335 Q704 342 695.5 346.5" stroke="#ff2a00" stroke-width="3" fill="none" stroke-linecap="round" stroke-linejoin="round"/><path d="M675.5 490 L699.5 489 M695.5 482 L704 488.5 Q705 492 703 493.5 L696 496.5" stroke="#ff2a00" stroke-width="3.5" fill="none" stroke-linecap="round" stroke-linejoin="round"/><path d="M236 393 Q237 384 241 383 Q246 383 255 392.5 M241 385 L244.5 393" stroke="#ff2a00" stroke-width="3.5" fill="none" stroke-linecap="round" stroke-linejoin="round"/><path d="M690 668.5 L690 652 L715 654 M694 653 L719 666 L730.5 666.5" stroke="#ff2a00" stroke-width="3" fill="none" stroke-linecap="round" stroke-linejoin="round"/><path d="M785.5 655.5 L804 662 L815 664 M802 653 L815 660.5 Q818 664 814 666 L804 665.5" stroke="#ff2a00" stroke-width="3.2" fill="none" stroke-linecap="round" stroke-linejoin="round"/></svg>
</body></html>
